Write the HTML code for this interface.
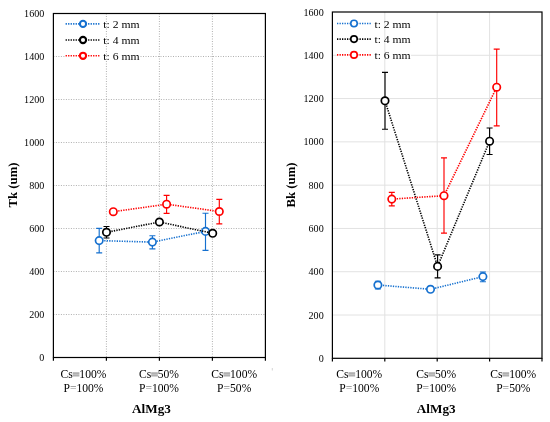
<!DOCTYPE html>
<html><head><meta charset="utf-8"><style>
html,body{margin:0;padding:0;background:#fff;}
body{width:550px;height:422px;overflow:hidden;}
svg{display:block;}
text{font-family:"Liberation Serif",serif;fill:#000;}
.tl{font-size:10.1px;text-anchor:end;}
.lg{font-size:10.9px;}
.xl{font-size:11.6px;text-anchor:middle;}
.al{font-size:13.2px;font-weight:bold;text-anchor:middle;}
.at{font-size:12.8px;font-weight:bold;text-anchor:middle;}
.eq{fill:#b0b0b0;stroke:#b0b0b0;stroke-width:1.3px;}
.g2{stroke:#e2e2e2;stroke-width:1;fill:none;}
.eq2{fill:#8a8a8a;}
.g{stroke:#b0b0b0;stroke-width:1;stroke-dasharray:1 1.5;fill:none;}
.fr{fill:none;stroke:#000;stroke-width:1.2;}
.tk{stroke:#000;stroke-width:1.2;}
.sl{fill:none;stroke-width:1.6;stroke-dasharray:1.3 1.2;}
.eb{fill:none;stroke-width:1.15;}
.mk{fill:#fff;stroke-width:1.7;}
.lmk{fill:#fff;stroke-width:2.1;}
</style></head><body>
<svg width="550" height="422" viewBox="0 0 550 422">
<rect width="550" height="422" fill="#fff"/>
<line x1="53.40" y1="314.50" x2="265.40" y2="314.50" class="g"/>
<line x1="53.40" y1="271.50" x2="265.40" y2="271.50" class="g"/>
<line x1="53.40" y1="228.50" x2="265.40" y2="228.50" class="g"/>
<line x1="53.40" y1="185.50" x2="265.40" y2="185.50" class="g"/>
<line x1="53.40" y1="142.50" x2="265.40" y2="142.50" class="g"/>
<line x1="53.40" y1="99.50" x2="265.40" y2="99.50" class="g"/>
<line x1="53.40" y1="56.50" x2="65.60" y2="56.50" class="g"/>
<line x1="140.50" y1="56.50" x2="265.40" y2="56.50" class="g"/>
<line x1="106.40" y1="13.50" x2="106.40" y2="357.50" class="g"/>
<line x1="159.40" y1="13.50" x2="159.40" y2="357.50" class="g"/>
<line x1="212.40" y1="13.50" x2="212.40" y2="357.50" class="g"/>
<text x="44.30" y="361.00" class="tl">0</text>
<text x="44.30" y="318.00" class="tl">200</text>
<text x="44.30" y="275.00" class="tl">400</text>
<text x="44.30" y="232.00" class="tl">600</text>
<text x="44.30" y="189.00" class="tl">800</text>
<text x="44.30" y="146.00" class="tl">1000</text>
<text x="44.30" y="103.00" class="tl">1200</text>
<text x="44.30" y="60.00" class="tl">1400</text>
<text x="44.30" y="17.00" class="tl">1600</text>
<rect x="53.40" y="13.50" width="212.00" height="344.00" class="fr"/>
<line x1="53.40" y1="357.50" x2="53.40" y2="360.70" class="tk"/>
<line x1="106.40" y1="357.50" x2="106.40" y2="360.70" class="tk"/>
<line x1="159.40" y1="357.50" x2="159.40" y2="360.70" class="tk"/>
<line x1="212.40" y1="357.50" x2="212.40" y2="360.70" class="tk"/>
<line x1="265.40" y1="357.50" x2="265.40" y2="360.70" class="tk"/>
<polyline points="99.20,240.60 152.40,242.10 205.50,231.40" class="sl" stroke="#1570CF"/>
<path d="M99.20 228.30V252.80M96.20 228.30H102.20M96.20 252.80H102.20" class="eb" stroke="#1570CF"/>
<path d="M152.40 235.70V248.80M149.40 235.70H155.40M149.40 248.80H155.40" class="eb" stroke="#1570CF"/>
<path d="M205.50 213.20V250.40M202.50 213.20H208.50M202.50 250.40H208.50" class="eb" stroke="#1570CF"/>
<circle cx="99.20" cy="240.60" r="3.7" class="mk" stroke="#1570CF"/>
<circle cx="152.40" cy="242.10" r="3.7" class="mk" stroke="#1570CF"/>
<circle cx="205.50" cy="231.40" r="3.7" class="mk" stroke="#1570CF"/>
<polyline points="106.50,232.30 159.40,222.00 212.70,233.30" class="sl" stroke="#000000"/>
<path d="M106.50 226.50V238.00M103.50 226.50H109.50M103.50 238.00H109.50" class="eb" stroke="#000000"/>
<circle cx="106.50" cy="232.30" r="3.7" class="mk" stroke="#000000"/>
<circle cx="159.40" cy="222.00" r="3.7" class="mk" stroke="#000000"/>
<circle cx="212.70" cy="233.30" r="3.7" class="mk" stroke="#000000"/>
<polyline points="113.30,211.70 166.60,204.20 219.30,211.50" class="sl" stroke="#FF0000"/>
<path d="M166.60 195.30V213.30M163.60 195.30H169.60M163.60 213.30H169.60" class="eb" stroke="#FF0000"/>
<path d="M219.30 199.40V223.80M216.30 199.40H222.30M216.30 223.80H222.30" class="eb" stroke="#FF0000"/>
<circle cx="113.30" cy="211.70" r="3.7" class="mk" stroke="#FF0000"/>
<circle cx="166.60" cy="204.20" r="3.7" class="mk" stroke="#FF0000"/>
<circle cx="219.30" cy="211.50" r="3.7" class="mk" stroke="#FF0000"/>
<line x1="65.60" y1="23.90" x2="99.50" y2="23.90" class="sl" stroke="#1570CF"/>
<circle cx="83.00" cy="23.90" r="3.1" class="lmk" stroke="#1570CF" style="stroke-width:2.1px"/>
<text transform="translate(103.30 27.70) scale(1.07 1)" class="lg">t: 2 mm</text>
<line x1="65.60" y1="40.00" x2="99.50" y2="40.00" class="sl" stroke="#000000"/>
<circle cx="83.00" cy="40.00" r="3.1" class="lmk" stroke="#000000" style="stroke-width:2.1px"/>
<text transform="translate(103.30 43.80) scale(1.07 1)" class="lg">t: 4 mm</text>
<line x1="65.60" y1="55.80" x2="99.50" y2="55.80" class="sl" stroke="#FF0000"/>
<circle cx="83.00" cy="55.80" r="3.1" class="lmk" stroke="#FF0000" style="stroke-width:2.1px"/>
<text transform="translate(103.30 59.60) scale(1.07 1)" class="lg">t: 6 mm</text>
<text x="17.10" y="185.00" class="at" transform="rotate(-90 17.10 185.00)">Tk (um)</text>
<text x="83.50" y="378.4" class="xl">Cs<tspan class="eq" dy="0.3">=</tspan><tspan dy="-0.3">100%</tspan></text>
<text x="83.50" y="392.1" class="xl">P<tspan class="eq2">=</tspan>100%</text>
<text x="159.00" y="378.4" class="xl">Cs<tspan class="eq" dy="0.3">=</tspan><tspan dy="-0.3">50%</tspan></text>
<text x="159.00" y="392.1" class="xl">P<tspan class="eq2">=</tspan>100%</text>
<text x="234.20" y="378.4" class="xl">Cs<tspan class="eq" dy="0.3">=</tspan><tspan dy="-0.3">100%</tspan></text>
<text x="234.20" y="392.1" class="xl">P<tspan class="eq2">=</tspan>50%</text>
<text x="151.50" y="413.2" class="al">AlMg3</text>
<line x1="332.40" y1="315.01" x2="542.00" y2="315.01" class="g2"/>
<line x1="332.40" y1="271.73" x2="542.00" y2="271.73" class="g2"/>
<line x1="332.40" y1="228.44" x2="542.00" y2="228.44" class="g2"/>
<line x1="332.40" y1="185.15" x2="542.00" y2="185.15" class="g2"/>
<line x1="332.40" y1="141.86" x2="542.00" y2="141.86" class="g2"/>
<line x1="332.40" y1="98.57" x2="542.00" y2="98.57" class="g2"/>
<line x1="332.40" y1="55.29" x2="337.00" y2="55.29" class="g2"/>
<line x1="411.00" y1="55.29" x2="542.00" y2="55.29" class="g2"/>
<line x1="384.80" y1="12.00" x2="384.80" y2="358.30" class="g2"/>
<line x1="437.20" y1="12.00" x2="437.20" y2="358.30" class="g2"/>
<line x1="489.60" y1="12.00" x2="489.60" y2="358.30" class="g2"/>
<text x="323.70" y="361.80" class="tl">0</text>
<text x="323.70" y="318.51" class="tl">200</text>
<text x="323.70" y="275.23" class="tl">400</text>
<text x="323.70" y="231.94" class="tl">600</text>
<text x="323.70" y="188.65" class="tl">800</text>
<text x="323.70" y="145.36" class="tl">1000</text>
<text x="323.70" y="102.07" class="tl">1200</text>
<text x="323.70" y="58.79" class="tl">1400</text>
<text x="323.70" y="15.50" class="tl">1600</text>
<rect x="332.40" y="12.00" width="209.60" height="346.30" class="fr"/>
<line x1="332.40" y1="358.30" x2="332.40" y2="361.50" class="tk"/>
<line x1="384.80" y1="358.30" x2="384.80" y2="361.50" class="tk"/>
<line x1="437.20" y1="358.30" x2="437.20" y2="361.50" class="tk"/>
<line x1="489.60" y1="358.30" x2="489.60" y2="361.50" class="tk"/>
<line x1="542.00" y1="358.30" x2="542.00" y2="361.50" class="tk"/>
<polyline points="377.90,285.00 430.50,289.30 482.90,276.60" class="sl" stroke="#1570CF"/>
<path d="M377.90 281.20V288.90M374.90 281.20H380.90M374.90 288.90H380.90" class="eb" stroke="#1570CF"/>
<path d="M482.90 272.00V281.70M479.90 272.00H485.90M479.90 281.70H485.90" class="eb" stroke="#1570CF"/>
<circle cx="377.90" cy="285.00" r="3.7" class="mk" stroke="#1570CF"/>
<circle cx="430.50" cy="289.30" r="3.7" class="mk" stroke="#1570CF"/>
<circle cx="482.90" cy="276.60" r="3.7" class="mk" stroke="#1570CF"/>
<polyline points="385.00,100.80 437.60,266.40 489.60,141.20" class="sl" stroke="#000000"/>
<path d="M385.00 72.30V129.20M382.00 72.30H388.00M382.00 129.20H388.00" class="eb" stroke="#000000"/>
<path d="M437.60 254.90V277.80M434.60 254.90H440.60M434.60 277.80H440.60" class="eb" stroke="#000000"/>
<path d="M489.60 128.00V154.50M486.60 128.00H492.60M486.60 154.50H492.60" class="eb" stroke="#000000"/>
<circle cx="385.00" cy="100.80" r="3.7" class="mk" stroke="#000000"/>
<circle cx="437.60" cy="266.40" r="3.7" class="mk" stroke="#000000"/>
<circle cx="489.60" cy="141.20" r="3.7" class="mk" stroke="#000000"/>
<polyline points="391.80,199.10 444.00,195.70 496.70,87.20" class="sl" stroke="#FF0000"/>
<path d="M391.80 192.40V205.80M388.80 192.40H394.80M388.80 205.80H394.80" class="eb" stroke="#FF0000"/>
<path d="M444.00 157.80V233.10M441.00 157.80H447.00M441.00 233.10H447.00" class="eb" stroke="#FF0000"/>
<path d="M496.70 49.10V125.90M493.70 49.10H499.70M493.70 125.90H499.70" class="eb" stroke="#FF0000"/>
<circle cx="391.80" cy="199.10" r="3.7" class="mk" stroke="#FF0000"/>
<circle cx="444.00" cy="195.70" r="3.7" class="mk" stroke="#FF0000"/>
<circle cx="496.70" cy="87.20" r="3.7" class="mk" stroke="#FF0000"/>
<line x1="337.00" y1="23.50" x2="371.30" y2="23.50" class="sl" stroke="#1570CF"/>
<circle cx="354.00" cy="23.50" r="3.25" class="lmk" stroke="#1570CF" style="stroke-width:1.6px"/>
<text transform="translate(374.40 27.60) scale(1.07 1)" class="lg">t: 2 mm</text>
<line x1="337.00" y1="39.10" x2="371.30" y2="39.10" class="sl" stroke="#000000"/>
<circle cx="354.00" cy="39.10" r="3.25" class="lmk" stroke="#000000" style="stroke-width:1.6px"/>
<text transform="translate(374.40 43.20) scale(1.07 1)" class="lg">t: 4 mm</text>
<line x1="337.00" y1="54.90" x2="371.30" y2="54.90" class="sl" stroke="#FF0000"/>
<circle cx="354.00" cy="54.90" r="3.25" class="lmk" stroke="#FF0000" style="stroke-width:1.6px"/>
<text transform="translate(374.40 59.00) scale(1.07 1)" class="lg">t: 6 mm</text>
<text x="294.70" y="185.00" class="at" transform="rotate(-90 294.70 185.00)">Bk (um)</text>
<text x="359.30" y="378.4" class="xl">Cs<tspan class="eq" dy="0.3">=</tspan><tspan dy="-0.3">100%</tspan></text>
<text x="359.30" y="392.1" class="xl">P<tspan class="eq2">=</tspan>100%</text>
<text x="436.20" y="378.4" class="xl">Cs<tspan class="eq" dy="0.3">=</tspan><tspan dy="-0.3">50%</tspan></text>
<text x="436.20" y="392.1" class="xl">P<tspan class="eq2">=</tspan>100%</text>
<text x="513.30" y="378.4" class="xl">Cs<tspan class="eq" dy="0.3">=</tspan><tspan dy="-0.3">100%</tspan></text>
<text x="513.30" y="392.1" class="xl">P<tspan class="eq2">=</tspan>50%</text>
<text x="436.20" y="413.2" class="al">AlMg3</text>
<line x1="272.3" y1="368" x2="272.3" y2="370.5" stroke="#c8c8c8" stroke-width="0.8"/>
</svg>
</body></html>
